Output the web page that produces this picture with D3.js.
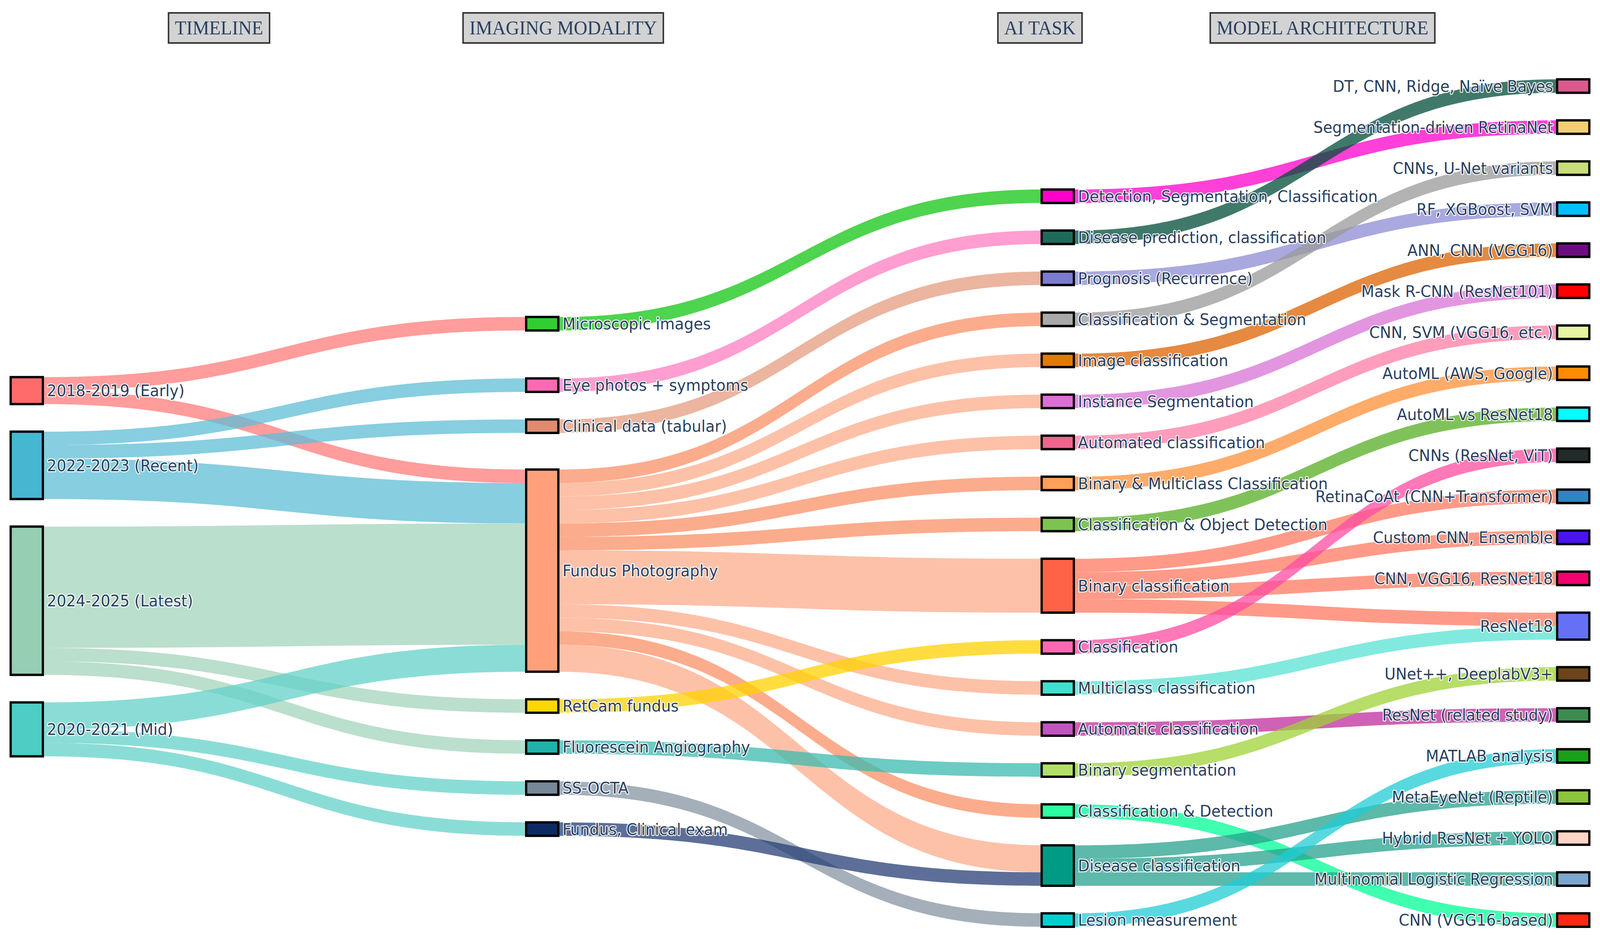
<!DOCTYPE html>
<html>
<head>
<meta charset="utf-8">
<script src="https://cdn.jsdelivr.net/npm/d3@7"></script>
<style>
  html, body { margin: 0; padding: 0; background: #fff; overflow: hidden; width: 100vw; height: 100vh; }
  svg { display: block; width: 100vw; height: 100vh; }
</style>
</head>
<body>
<svg id="chart"></svg>
<script>
// ---------------- DATA ----------------
const stageTitles = ["TIMELINE", "IMAGING MODALITY", "AI TASK", "MODEL ARCHITECTURE"];

const timeline = ["2018-2019 (Early)", "2022-2023 (Recent)", "2024-2025 (Latest)", "2020-2021 (Mid)"];

const modalities = ["Microscopic images", "Eye photos + symptoms", "Clinical data (tabular)", "Fundus Photography",
  "RetCam fundus", "Fluorescein Angiography", "SS-OCTA", "Fundus, Clinical exam"];

const tasks = ["Detection, Segmentation, Classification", "Disease prediction, classification", "Prognosis (Recurrence)",
  "Classification & Segmentation", "Image classification", "Instance Segmentation", "Automated classification",
  "Binary & Multiclass Classification", "Classification & Object Detection", "Binary classification", "Classification",
  "Multiclass classification", "Automatic classification", "Binary segmentation", "Classification & Detection",
  "Disease classification", "Lesion measurement"];

const architectures = ["DT, CNN, Ridge, Naïve Bayes", "Segmentation-driven RetinaNet", "CNNs, U-Net variants",
  "RF, XGBoost, SVM", "ANN, CNN (VGG16)", "Mask R-CNN (ResNet101)", "CNN, SVM (VGG16, etc.)", "AutoML (AWS, Google)",
  "AutoML vs ResNet18", "CNNs (ResNet, ViT)", "RetinaCoAt (CNN+Transformer)", "Custom CNN, Ensemble",
  "CNN, VGG16, ResNet18", "ResNet18", "UNet++, DeeplabV3+", "ResNet (related study)", "MATLAB analysis",
  "MetaEyeNet (Reptile)", "Hybrid ResNet + YOLO", "Multinomial Logistic Regression", "CNN (VGG16-based)"];

const linkSource = [
  "2018-2019 (Early)", "2018-2019 (Early)",
  "2022-2023 (Recent)", "2022-2023 (Recent)", "2022-2023 (Recent)",
  "2024-2025 (Latest)", "2024-2025 (Latest)", "2024-2025 (Latest)",
  "2020-2021 (Mid)", "2020-2021 (Mid)", "2020-2021 (Mid)",
  "Microscopic images", "Eye photos + symptoms", "Clinical data (tabular)",
  "Fundus Photography", "Fundus Photography", "Fundus Photography", "Fundus Photography", "Fundus Photography",
  "Fundus Photography", "Fundus Photography", "Fundus Photography", "Fundus Photography", "Fundus Photography",
  "Fundus Photography",
  "RetCam fundus", "Fluorescein Angiography", "SS-OCTA", "Fundus, Clinical exam",
  "Detection, Segmentation, Classification", "Disease prediction, classification", "Prognosis (Recurrence)",
  "Classification & Segmentation", "Image classification", "Instance Segmentation", "Automated classification",
  "Binary & Multiclass Classification", "Classification & Object Detection",
  "Binary classification", "Binary classification", "Binary classification", "Binary classification",
  "Classification", "Multiclass classification", "Automatic classification", "Binary segmentation",
  "Classification & Detection",
  "Disease classification", "Disease classification", "Disease classification",
  "Lesion measurement"];

const linkTarget = [
  "Microscopic images", "Fundus Photography",
  "Eye photos + symptoms", "Clinical data (tabular)", "Fundus Photography",
  "Fundus Photography", "RetCam fundus", "Fluorescein Angiography",
  "Fundus Photography", "SS-OCTA", "Fundus, Clinical exam",
  "Detection, Segmentation, Classification", "Disease prediction, classification", "Prognosis (Recurrence)",
  "Classification & Segmentation", "Image classification", "Instance Segmentation", "Automated classification",
  "Binary & Multiclass Classification", "Classification & Object Detection", "Binary classification",
  "Multiclass classification", "Automatic classification", "Classification & Detection", "Disease classification",
  "Classification", "Binary segmentation", "Lesion measurement", "Disease classification",
  "Segmentation-driven RetinaNet", "DT, CNN, Ridge, Naïve Bayes", "RF, XGBoost, SVM",
  "CNNs, U-Net variants", "ANN, CNN (VGG16)", "Mask R-CNN (ResNet101)", "CNN, SVM (VGG16, etc.)",
  "AutoML (AWS, Google)", "AutoML vs ResNet18",
  "RetinaCoAt (CNN+Transformer)", "Custom CNN, Ensemble", "CNN, VGG16, ResNet18", "ResNet18",
  "CNNs (ResNet, ViT)", "ResNet18", "ResNet (related study)", "UNet++, DeeplabV3+",
  "CNN (VGG16-based)",
  "MetaEyeNet (Reptile)", "Hybrid ResNet + YOLO", "Multinomial Logistic Regression",
  "MATLAB analysis"];

const linkValue = [
  1, 1,
  1, 1, 3,
  9, 1, 1,
  2, 1, 1,
  1, 1, 1,
  1, 1, 1, 1, 1, 1, 4, 1, 1, 1, 2,
  1, 1, 1, 1,
  1, 1, 1, 1, 1, 1, 1, 1, 1,
  1, 1, 1, 1,
  1, 1, 1, 1, 1,
  1, 1, 1,
  1];

// ---------------- STYLES ----------------
const nodeColors = {
  "2018-2019 (Early)": "#FF6B6B", "2022-2023 (Recent)": "#45B7D1", "2024-2025 (Latest)": "#96CEB4", "2020-2021 (Mid)": "#4ECDC4",
  "Microscopic images": "#32CD32", "Eye photos + symptoms": "#FF69B4", "Clinical data (tabular)": "#E08B6E",
  "Fundus Photography": "#FFA07A", "RetCam fundus": "#FFD700", "Fluorescein Angiography": "#20B2AA",
  "SS-OCTA": "#778899", "Fundus, Clinical exam": "#0D2A64",
  "Detection, Segmentation, Classification": "#FF00CC", "Disease prediction, classification": "#1E6B5C",
  "Prognosis (Recurrence)": "#7B7BD0", "Classification & Segmentation": "#A9A9A9", "Image classification": "#E07B00",
  "Instance Segmentation": "#DA70D6", "Automated classification": "#F0648C", "Binary & Multiclass Classification": "#FFA05A",
  "Classification & Object Detection": "#7DC352", "Binary classification": "#FF6347", "Classification": "#FF69B4",
  "Multiclass classification": "#40E0D0", "Automatic classification": "#C154C1", "Binary segmentation": "#B4E06A",
  "Classification & Detection": "#2CFFA0", "Disease classification": "#009B84", "Lesion measurement": "#00CED1",
  "DT, CNN, Ridge, Naïve Bayes": "#DB5A8C", "Segmentation-driven RetinaNet": "#F3CF72", "CNNs, U-Net variants": "#C8DC78",
  "RF, XGBoost, SVM": "#00BFFF", "ANN, CNN (VGG16)": "#6B0F80", "Mask R-CNN (ResNet101)": "#FF0000",
  "CNN, SVM (VGG16, etc.)": "#E6F5A0", "AutoML (AWS, Google)": "#FF8C00", "AutoML vs ResNet18": "#00FFFF",
  "CNNs (ResNet, ViT)": "#222A2A", "RetinaCoAt (CNN+Transformer)": "#2E86C1", "Custom CNN, Ensemble": "#4A14F0",
  "CNN, VGG16, ResNet18": "#F5006E", "ResNet18": "#6570F5", "UNet++, DeeplabV3+": "#6B4419",
  "ResNet (related study)": "#3C8C50", "MATLAB analysis": "#1BA01B", "MetaEyeNet (Reptile)": "#8CC43C",
  "Hybrid ResNet + YOLO": "#FFD5C5", "Multinomial Logistic Regression": "#7BA7CE", "CNN (VGG16-based)": "#FF2A10"
};
// link colours as they appear on white
const linkColorBySource = {
  "2018-2019 (Early)": "#FF9C9C", "2022-2023 (Recent)": "#87CEE0", "2024-2025 (Latest)": "#BBDFCD", "2020-2021 (Mid)": "#8ADDD6",
  "Microscopic images": "#4ED44E", "Eye photos + symptoms": "#FF9ED0", "Clinical data (tabular)": "#EBB5A0",
  "Fundus Photography": "#FDC1A8", "RetCam fundus": "#FFDD22", "Fluorescein Angiography": "#6CCBC3",
  "SS-OCTA": "#A4AFBA", "Fundus, Clinical exam": "#5D6F98",
  "Detection, Segmentation, Classification": "#FF2AD8", "Disease prediction, classification": "#24796A",
  "Prognosis (Recurrence)": "#A9A9DF", "Classification & Segmentation": "#B3B3B3", "Image classification": "#E58A0A",
  "Instance Segmentation": "#E296E0", "Automated classification": "#FF9DBC", "Binary & Multiclass Classification": "#FFAB6A",
  "Classification & Object Detection": "#80C25A", "Binary classification": "#FF9A88", "Classification": "#FF78B8",
  "Multiclass classification": "#82E9DE", "Automatic classification": "#CF62B6", "Binary segmentation": "#B6DE68",
  "Classification & Detection": "#40FFB0", "Disease classification": "#5DB9AA", "Lesion measurement": "#58D9E0"
};
const fundusDarkTargets = new Set(["Classification & Segmentation", "Binary & Multiclass Classification",
  "Classification & Object Detection", "Classification & Detection"]);
const fundusDarkColor = "#FBAC8C";
const LINK_OPACITY = 0.75;

// ---------------- LAYOUT ----------------
const W = 4275, H = 2393;
const X0 = 28.5, X1 = 4246.5, NODE_W = 86;
const Y0 = 203, Y1 = 2372, PAD = 70.5;
const ITER = 50;

const columns = [timeline, modalities, tasks, architectures];
const nodes = [];
columns.forEach((col, ci) => col.forEach((name, i) => nodes.push({ name, layer: ci, index: i, sourceLinks: [], targetLinks: [] })));
const byName = new Map(nodes.map(n => [n.name, n]));
const links = linkSource.map((s, i) => ({ source: byName.get(s), target: byName.get(linkTarget[i]), value: linkValue[i], index: i }));
links.forEach(l => { l.source.sourceLinks.push(l); l.target.targetLinks.push(l); });
nodes.forEach(n => n.value = Math.max(d3.sum(n.sourceLinks, l => l.value), d3.sum(n.targetLinks, l => l.value)));

const xScale = d3.scaleLinear().domain([0, columns.length - 1]).range([X0, X1 - NODE_W]);
nodes.forEach(n => { n.x0 = xScale(n.layer); n.x1 = n.x0 + NODE_W; });

const cols = columns.map((c, ci) => nodes.filter(n => n.layer === ci));
const ky = d3.min(cols, c => (Y1 - Y0 - (c.length - 1) * PAD) / d3.sum(c, n => n.value));
const hScale = d3.scaleLinear().domain([0, 1]).range([0, ky]);

const center = n => (n.y0 + n.y1) / 2;
cols.forEach(c => c.forEach((n, i) => { n.y0 = i; n.y1 = i + hScale(n.value); }));
links.forEach(l => l.width = hScale(l.value));

function resolveCollisions() {
  cols.forEach(c => {
    let y = Y0, node, dy;
    for (node of c) {
      dy = y - node.y0;
      if (dy > 0) { node.y0 += dy; node.y1 += dy; }
      y = node.y1 + PAD;
    }
    dy = y - PAD - Y1;
    if (dy > 0) {
      node = c[c.length - 1];
      node.y0 -= dy; node.y1 -= dy;
      y = node.y0;
      for (let i = c.length - 2; i >= 0; --i) {
        node = c[i];
        dy = node.y1 + PAD - y;
        if (dy > 0) { node.y0 -= dy; node.y1 -= dy; }
        y = node.y0;
      }
    }
  });
}
function relaxLeftToRight(alpha) {
  cols.forEach(c => c.forEach(n => {
    if (n.targetLinks.length) {
      const dy = (d3.sum(n.targetLinks, l => center(l.source) * l.value) / d3.sum(n.targetLinks, l => l.value) - center(n)) * alpha;
      n.y0 += dy; n.y1 += dy;
    }
  }));
}
function relaxRightToLeft(alpha) {
  cols.slice().reverse().forEach(c => c.forEach(n => {
    if (n.sourceLinks.length) {
      const dy = (d3.sum(n.sourceLinks, l => center(l.target) * l.value) / d3.sum(n.sourceLinks, l => l.value) - center(n)) * alpha;
      n.y0 += dy; n.y1 += dy;
    }
  }));
}
resolveCollisions();
for (let alpha = 1, k = ITER; k > 0; --k) {
  relaxRightToLeft(alpha *= 0.99);
  resolveCollisions();
  relaxLeftToRight(alpha);
  resolveCollisions();
}
nodes.forEach(n => {
  n.sourceLinks.sort((a, b) => a.target.y0 - b.target.y0);
  n.targetLinks.sort((a, b) => a.source.y0 - b.source.y0);
});
nodes.forEach(n => {
  let y = n.y0;
  n.sourceLinks.forEach(l => { l.y0 = y + l.width / 2; y += l.width; });
  y = n.y0;
  n.targetLinks.forEach(l => { l.y1 = y + l.width / 2; y += l.width; });
});

// ---------------- DRAW ----------------
// the chart fills the whole window, like the reference fills its picture
const svg = d3.select("#chart").attr("viewBox", `0 0 ${W} ${H}`).attr("preserveAspectRatio", "none");
svg.append("rect").attr("width", W).attr("height", H).attr("fill", "#fff");

function baseColor(obs) {
  const c = d3.rgb(obs);
  const f = v => Math.max(0, Math.min(255, (v - (1 - LINK_OPACITY) * 255) / LINK_OPACITY));
  return d3.rgb(f(c.r), f(c.g), f(c.b)).formatHex();
}
function linkColor(l) {
  if (l.source.name === "Fundus Photography" && fundusDarkTargets.has(l.target.name)) return baseColor(fundusDarkColor);
  return baseColor(linkColorBySource[l.source.name]);
}
function linkPath(l) {
  const x0 = l.source.x1, x1 = l.target.x0, xm = d3.interpolateNumber(x0, x1)(0.5);
  const w = l.width / 2;
  return `M${x0},${l.y0 - w}C${xm},${l.y0 - w} ${xm},${l.y1 - w} ${x1},${l.y1 - w}` +
         `L${x1},${l.y1 + w}C${xm},${l.y1 + w} ${xm},${l.y0 + w} ${x0},${l.y0 + w}Z`;
}

svg.append("g").selectAll("path").data(links).join("path")
  .attr("d", linkPath)
  .attr("fill", linkColor)
  .attr("fill-opacity", LINK_OPACITY);

svg.append("g").selectAll("rect").data(nodes).join("rect")
  .attr("x", d => d.x0).attr("y", d => d.y0)
  .attr("width", d => d.x1 - d.x0).attr("height", d => d.y1 - d.y0)
  .attr("fill", d => nodeColors[d.name])
  .attr("stroke", "#000").attr("stroke-width", 6);

svg.append("g").selectAll("text").data(nodes).join("text")
  .attr("x", d => d.layer === columns.length - 1 ? d.x0 - 11 : d.x1 + 11)
  .attr("y", d => center(d))
  .attr("dy", "0.36em")
  .attr("text-anchor", d => d.layer === columns.length - 1 ? "end" : "start")
  .attr("font-family", "'DejaVu Sans', Verdana, sans-serif")
  .attr("font-size", 40.5)
  .attr("fill", "#2a3f5f")
  .attr("stroke", "#fff").attr("stroke-width", 5).attr("stroke-opacity", 0.9)
  .attr("stroke-linejoin", "round").attr("paint-order", "stroke")
  .text(d => d.name);

// stage titles
const titleFrac = [0.132, 0.35, 0.652, 0.831];
const titleX = d3.scaleLinear().domain([0, 1]).range([X0, X1]);
const tg = svg.append("g");
stageTitles.forEach((t, i) => {
  const g = tg.append("g");
  const txt = g.append("text")
    .attr("x", titleX(titleFrac[i])).attr("y", 71).attr("dy", "0.35em")
    .attr("text-anchor", "middle")
    .attr("font-family", "'Liberation Serif', 'Times New Roman', serif")
    .attr("font-size", 50).attr("fill", "#2a3f5f")
    .text(t);
  const bb = txt.node().getBBox();
  g.insert("rect", "text")
    .attr("x", bb.x - 17).attr("y", 33).attr("width", bb.width + 34).attr("height", 77)
    .attr("fill", "#D3D3D3").attr("stroke", "#333").attr("stroke-width", 4);
});
</script>
</body>
</html>
